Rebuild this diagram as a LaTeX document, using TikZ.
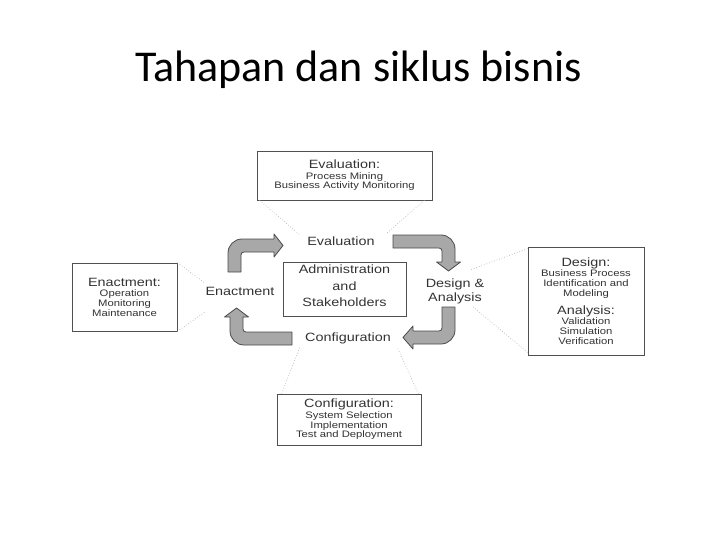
\documentclass[tikz,border=0pt]{standalone}
\usepackage{fontspec}
\setmainfont{Carlito}
\newfontfamily\df[FakeStretch=1.2]{Liberation Sans}
\definecolor{arrfill}{HTML}{A8A8A8}
\definecolor{arrline}{HTML}{4A4A4A}
\definecolor{boxline}{HTML}{505050}
\definecolor{dotc}{HTML}{B4B4B4}
\definecolor{txt}{HTML}{333333}
\tikzset{
  infobox/.style={draw=boxline, line width=0.8pt, fill=white, align=center, inner sep=0pt,
     text=txt, font=\df\fontsize{9.4}{9.8}\selectfont},
  lbl/.style={align=center, inner sep=1pt, text=txt, font=\df\fontsize{12}{14}\selectfont},
  cyc/.style={fill=arrfill, draw=arrline, line width=0.8pt, line join=round},
  dotl/.style={draw=dotc, dotted, line width=0.7pt}
}
\newcommand{\hd}[1]{{\fontsize{12}{12}\selectfont #1}}
\begin{document}
\begin{tikzpicture}[x=1pt,y=-1pt]
\useasboundingbox (0,0) rectangle (720,540);
% title
\node[anchor=base, inner sep=0pt, font=\fontsize{44}{50}\selectfont] (title) at (358.5,82) {Tahapan dan siklus bisnis};

% info boxes
\node[infobox, minimum width=175pt, minimum height=49pt] (eval) at (344.5,175.5)
  {\hd{Evaluation:}\\[0.5pt]Process Mining\\Business Activity Monitoring};
\node[infobox, minimum width=105pt, minimum height=68pt] (enact) at (124.5,297)
  {\hd{Enactment:}\\[0.5pt]Operation\\Monitoring\\Maintenance};
\node[infobox, minimum width=116pt, minimum height=108pt] (design) at (586,301)
  {\hd{Design:}\\[0.5pt]Business Process\\Identification and\\Modeling\\[6pt]\hd{Analysis:}\\[0.5pt]Validation\\Simulation\\Verification};
\node[infobox, minimum width=144pt, minimum height=51pt] (config) at (349,419.5)
  {\hd{Configuration:}\\[0.5pt]System Selection\\Implementation\\Test and Deployment};

% centre box
\node[draw=boxline, line width=0.8pt, minimum width=123pt, minimum height=54pt,
      inner sep=0pt] (adm) at (344.5,289) {};
\node[align=center, inner sep=0pt, text=txt, font=\df\fontsize{12}{16.5}\selectfont] (admtxt) at (344.5,286)
  {Administration\\and\\Stakeholders};

% cycle labels
\node[lbl] (lev) at (341,241) {Evaluation};
\node[lbl] (lena) at (240,291) {Enactment};
\node[lbl] (ldes) at (455,291) {Design \&\\Analysis};
\node[lbl] (lcon) at (348,338) {Configuration};

% dotted guide lines
\coordinate (e1) at (300,235); \coordinate (e2) at (387,233);
\coordinate (n1) at (205,283); \coordinate (n2) at (205,312);
\coordinate (d1) at (470,270); \coordinate (d2) at (472,306);
\coordinate (c1) at (300,347); \coordinate (c2) at (397,347);
\draw[dotl] ([xshift=3pt]eval.south west) -- (e1);
\draw[dotl] ([xshift=-8pt]eval.south east) -- (e2);
\draw[dotl] (enact.north east) -- (n1);
\draw[dotl] (enact.south east) -- (n2);
\draw[dotl] ([yshift=-2pt]design.north west) -- (d1);
\draw[dotl] ([yshift=3pt]design.south west) -- (d2);
\draw[dotl] ([xshift=5pt]config.north west) -- (c1);
\draw[dotl] ([xshift=-3pt]config.north east) -- (c2);

% cycle arrows
% top-left
\path[cyc] (228,272) -- (228,253) .. controls (228,245.3) and (234.3,239) .. (242,239)
  -- (274,239) -- (274,234) -- (283,245.5) -- (274,257) -- (274,252) -- (244,252)
  .. controls (242.3,252) and (241,253.3) .. (241,255) -- (241,272) -- cycle;
% top-right
\path[cyc] (393,235) -- (441,235) .. controls (448.7,235) and (455,241.3) .. (455,249)
  -- (455,262) -- (460.5,262) -- (448.5,271) -- (436.5,262) -- (442,262) -- (442,251)
  .. controls (442,249.3) and (440.7,248) .. (439,248) -- (393,248) -- cycle;
% bottom-right
\path[cyc] (442,307) -- (455,307) -- (455,330) .. controls (455,337.7) and (448.7,344) .. (441,344)
  -- (413,344) -- (413,349) -- (403,337.5) -- (413,326) -- (413,331) -- (439,331)
  .. controls (440.7,331) and (442,329.7) .. (442,328) -- cycle;
% bottom-left
\path[cyc] (292,345) -- (244,345) .. controls (236.3,345) and (230,338.7) .. (230,331)
  -- (230,317) -- (224.5,317) -- (236.5,308) -- (248.5,317) -- (243,317) -- (243,329)
  .. controls (243,330.7) and (244.3,332) .. (246,332) -- (292,332) -- cycle;
\end{tikzpicture}
\end{document}
